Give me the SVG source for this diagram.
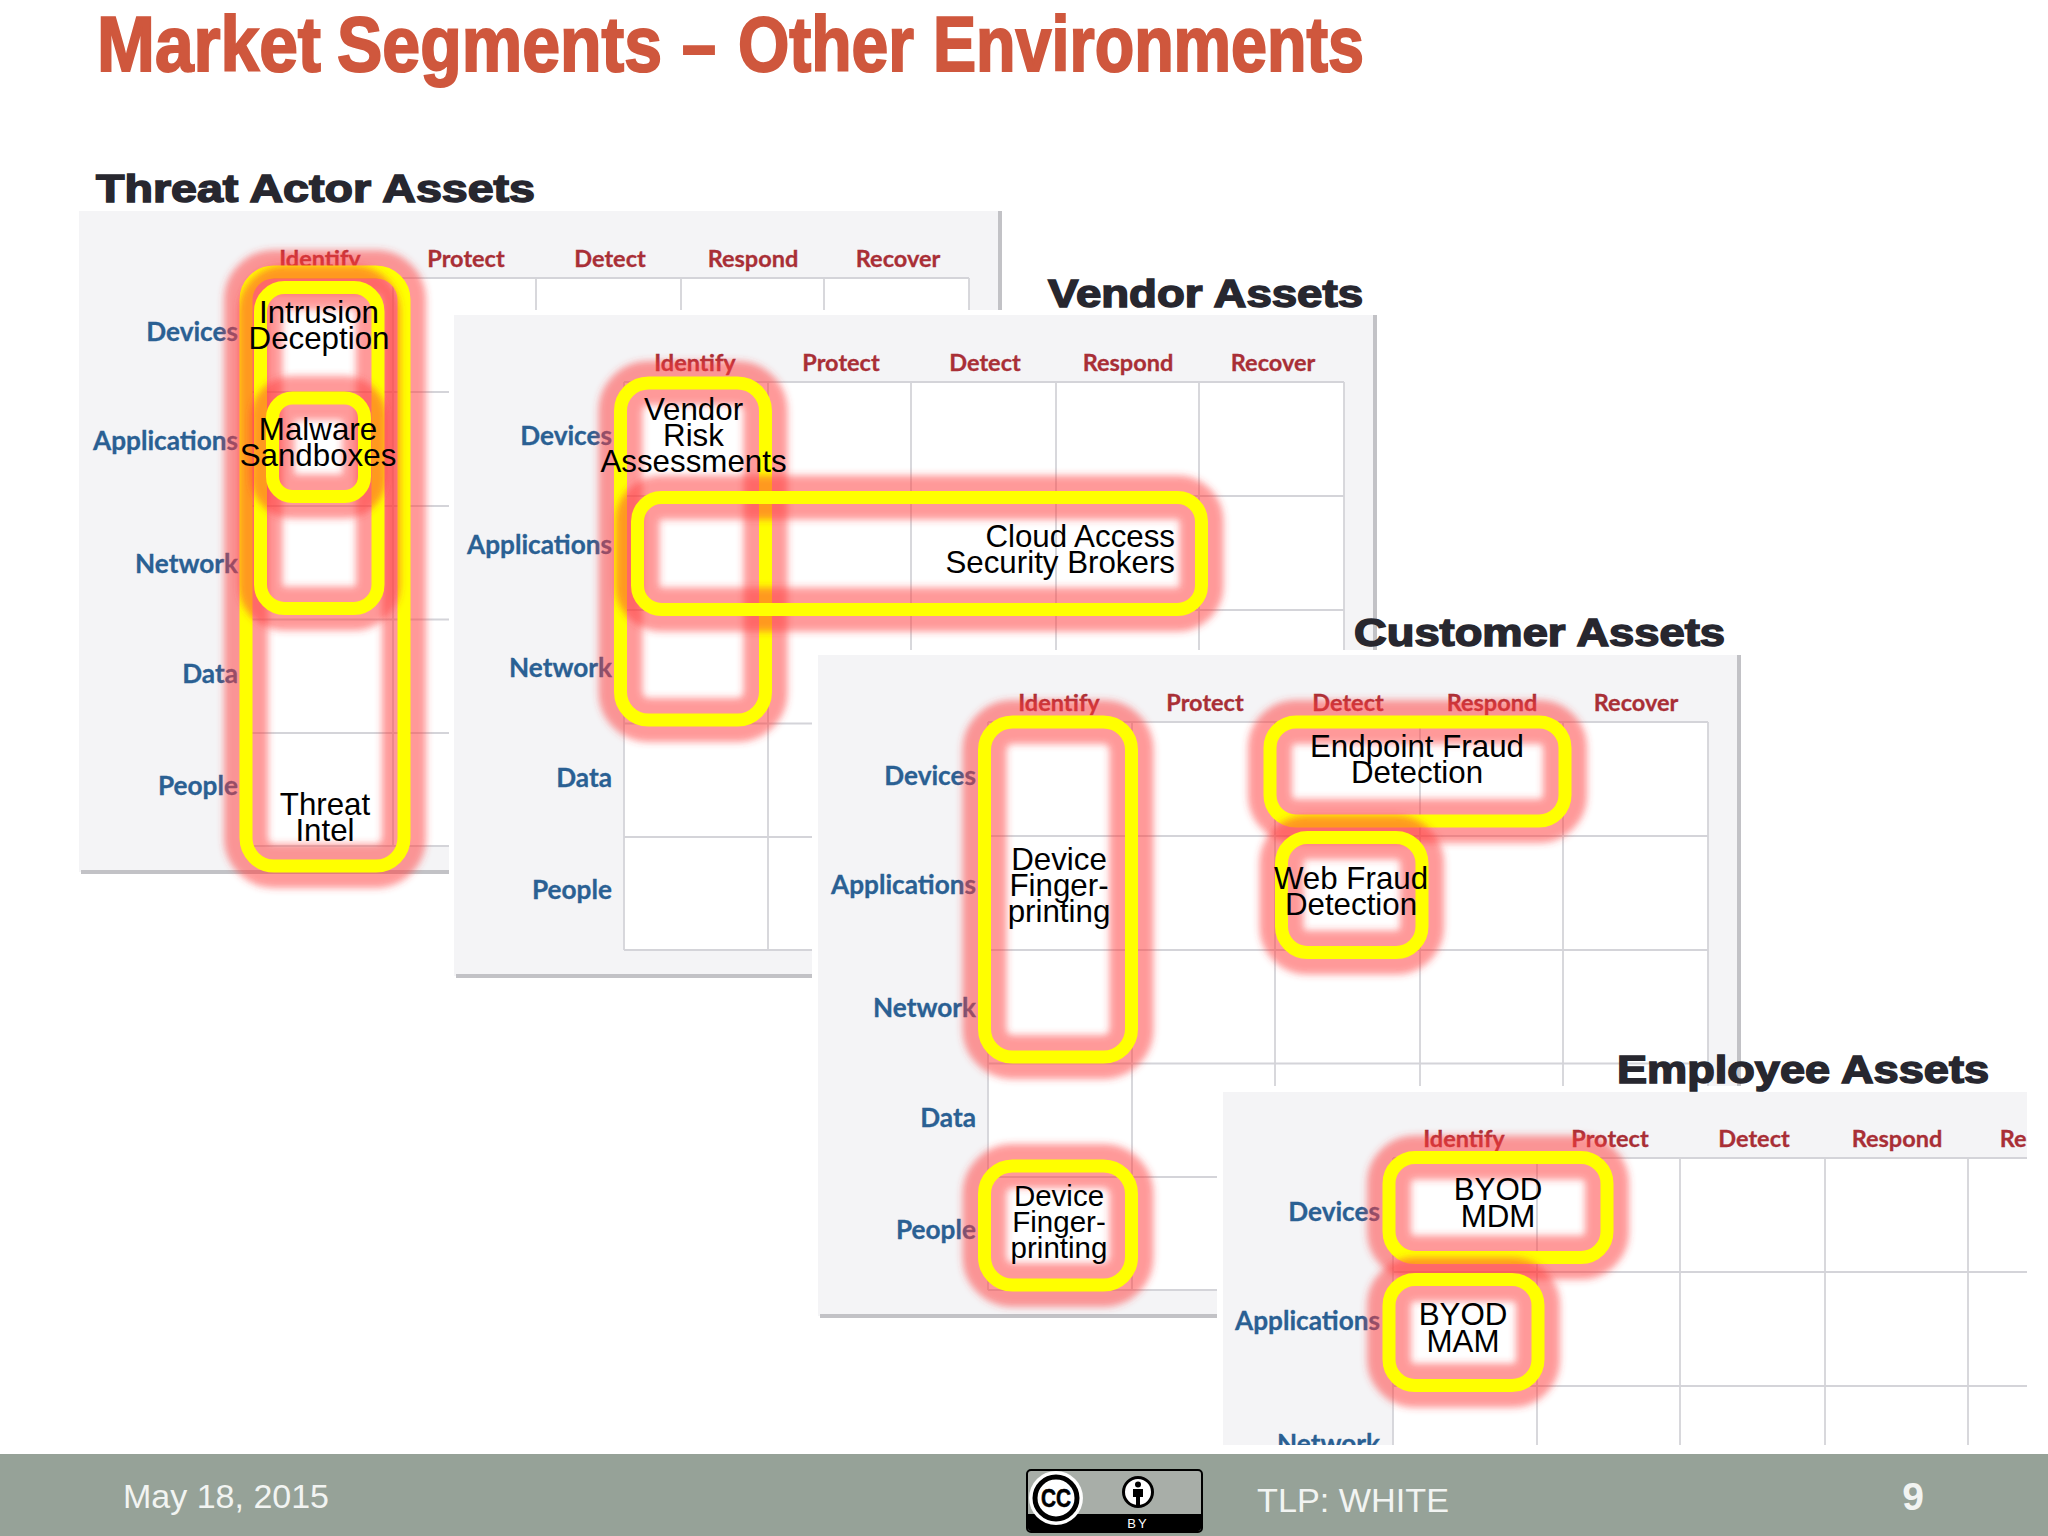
<svg xmlns="http://www.w3.org/2000/svg" width="2048" height="1536" viewBox="0 0 2048 1536">
<style>
.mask{fill:#fff}
.panel{fill:#f4f4f6}
.edge{fill:#c2c2c6}
.cells{fill:#fff}
.grid{stroke:#d4d4d9;stroke-width:1.800;fill:none}
.hd{font:700 23.500px Lato,"Liberation Sans",sans-serif;fill:#a92f36;stroke:#a92f36;stroke-width:.3;text-anchor:middle}
.rl{font:700 26.200px Lato,"Liberation Sans",sans-serif;fill:#2a6093;stroke:#2a6093;stroke-width:.3;text-anchor:end}
.glow{fill:none;stroke:#ff3c3c;stroke-opacity:.52;stroke-width:44;filter:url(#soft)}
.hl{fill:none;stroke:#ffff00;stroke-width:13}
.lb{font:31.300px "Liberation Sans",Arial,sans-serif;fill:#000;text-anchor:middle}
.h2{font:700 38px "Liberation Sans",Arial,sans-serif;fill:#27272f;stroke:#27272f;stroke-width:1.500}
.ft{font:34px "Liberation Sans",Arial,sans-serif;fill:#f2f4f2}
</style>
<defs>
<filter id="soft" x="-30%" y="-30%" width="160%" height="160%"><feGaussianBlur stdDeviation="3.800"/></filter>
<filter id="softer" x="-2%" y="-2%" width="104%" height="104%"><feGaussianBlur stdDeviation="0.600"/></filter>
<clipPath id="clip4"><rect x="1221" y="1092" width="806" height="353"/></clipPath>
<radialGradient id="ccg" gradientUnits="userSpaceOnUse" cx="1056" cy="1498" r="62"><stop offset="0.4" stop-color="#ffffff"/><stop offset="1" stop-color="#a8aea8"/></radialGradient>
<g id="frame" filter="url(#softer)">
<rect class="panel" x="79" y="211" width="921" height="661"/>
<rect class="edge" x="998" y="211" width="4" height="661"/>
<rect class="edge" x="81" y="870" width="921" height="4"/>
<rect class="cells" x="249" y="278" width="720" height="568"/>
<path class="grid" d="M249 278H969M249 392H969M249 506H969M249 619.500H969M249 733H969M249 846H969M249 278V846M393 278V846M536 278V846M681 278V846M824 278V846M969 278V846"/>
</g>
</defs>
<rect width="2048" height="1536" fill="#fff"/>
<text y="71" font-family="'Liberation Sans',Arial,sans-serif" font-weight="700" font-size="77" fill="#cf573d" stroke="#cf573d" stroke-width="2"><tspan x="97" textLength="224" lengthAdjust="spacingAndGlyphs">Market</tspan> <tspan x="337" textLength="325" lengthAdjust="spacingAndGlyphs">Segments</tspan> <tspan x="682" textLength="34" lengthAdjust="spacingAndGlyphs">–</tspan> <tspan x="738" textLength="176" lengthAdjust="spacingAndGlyphs">Other</tspan> <tspan x="933" textLength="431" lengthAdjust="spacingAndGlyphs">Environments</tspan></text>

<g id="panel-threat-actor">
<use href="#frame"/>
<g class="hdrs"><text class="hd" x="320" y="267">Identify</text><text class="hd" x="466" y="267">Protect</text><text class="hd" x="610" y="267">Detect</text><text class="hd" x="753" y="267">Respond</text><text class="hd" x="898" y="267">Recover</text></g>
<text class="rl" x="238" y="341">Devices</text><text class="rl" x="238" y="450">Applications</text><text class="rl" x="238" y="573">Network</text><text class="rl" x="238" y="683">Data</text><text class="rl" x="238" y="795">People</text>
<rect class="glow" x="246" y="272" width="158" height="594" rx="28"/><rect class="hl" x="246" y="272" width="158" height="594" rx="28"/>
<rect class="glow" x="260.500" y="287.500" width="117.500" height="321" rx="24"/><rect class="hl" x="260.500" y="287.500" width="117.500" height="321" rx="24"/>
<rect class="glow" x="272.500" y="398" width="92" height="98.500" rx="20"/><rect class="hl" x="272.500" y="398" width="92" height="98.500" rx="20"/>
<text class="lb" x="319" y="323">Intrusion</text><text class="lb" x="319" y="349">Deception</text>
<text class="lb" x="318" y="440">Malware</text><text class="lb" x="318" y="466">Sandboxes</text>
<text class="lb" x="325" y="815">Threat</text><text class="lb" x="325" y="841">Intel</text>
</g>

<rect class="mask" x="449" y="310" width="945" height="675"/>
<g id="panel-vendor">
<use href="#frame" x="375" y="104"/>
<text class="hd" x="695" y="371">Identify</text><text class="hd" x="841" y="371">Protect</text><text class="hd" x="985" y="371">Detect</text><text class="hd" x="1128" y="371">Respond</text><text class="hd" x="1273" y="371">Recover</text>
<text class="rl" x="612" y="445">Devices</text><text class="rl" x="612" y="554">Applications</text><text class="rl" x="612" y="677">Network</text><text class="rl" x="612" y="787">Data</text><text class="rl" x="612" y="899">People</text>
<rect class="glow" x="620.500" y="383" width="145" height="337" rx="28"/><rect class="hl" x="620.500" y="383" width="145" height="337" rx="28"/>
<rect class="glow" x="637.500" y="497.500" width="564" height="112" rx="24"/><rect class="hl" x="637.500" y="497.500" width="564" height="112" rx="24"/>
<text class="lb" x="693.500" y="420">Vendor</text><text class="lb" x="693.500" y="446">Risk</text><text class="lb" x="693.500" y="472">Assessments</text>
<text class="lb" x="1175" y="547" style="text-anchor:end">Cloud Access</text><text class="lb" x="1175" y="573" style="text-anchor:end">Security Brokers</text>
</g>

<rect class="mask" x="812" y="650" width="945" height="675"/>
<g id="panel-customer">
<use href="#frame" x="739" y="444"/>
<text class="hd" x="1059" y="711">Identify</text><text class="hd" x="1205" y="711">Protect</text><text class="hd" x="1348" y="711">Detect</text><text class="hd" x="1492" y="711">Respond</text><text class="hd" x="1636" y="711">Recover</text>
<text class="rl" x="976" y="785">Devices</text><text class="rl" x="976" y="894">Applications</text><text class="rl" x="976" y="1017">Network</text><text class="rl" x="976" y="1127">Data</text><text class="rl" x="976" y="1239">People</text>
<rect class="glow" x="984.500" y="722" width="147" height="335" rx="28"/><rect class="hl" x="984.500" y="722" width="147" height="335" rx="28"/>
<rect class="glow" x="984.500" y="1166" width="147" height="119" rx="28"/><rect class="hl" x="984.500" y="1166" width="147" height="119" rx="28"/>
<rect class="glow" x="1270" y="722" width="295" height="99" rx="26"/><rect class="hl" x="1270" y="722" width="295" height="99" rx="26"/>
<rect class="glow" x="1281.500" y="837.500" width="140.500" height="115" rx="26"/><rect class="hl" x="1281.500" y="837.500" width="140.500" height="115" rx="26"/>
<text class="lb" x="1059" y="870">Device</text><text class="lb" x="1059" y="896">Finger-</text><text class="lb" x="1059" y="922">printing</text>
<text class="lb" x="1059" y="1206" style="font-size:29.500px">Device</text><text class="lb" x="1059" y="1232" style="font-size:29.500px">Finger-</text><text class="lb" x="1059" y="1258" style="font-size:29.500px">printing</text>
<text class="lb" x="1417" y="757">Endpoint Fraud</text><text class="lb" x="1417" y="783">Detection</text>
<text class="lb" x="1351" y="889">Web Fraud</text><text class="lb" x="1351" y="915">Detection</text>
</g>

<rect class="mask" x="1217" y="1086" width="831" height="368"/>
<g id="panel-employee" clip-path="url(#clip4)">
<use href="#frame" x="1144" y="880"/>
<text class="hd" x="1464" y="1147">Identify</text><text class="hd" x="1610" y="1147">Protect</text><text class="hd" x="1754" y="1147">Detect</text><text class="hd" x="1897" y="1147">Respond</text><text class="hd" x="2042" y="1147">Recover</text>
<text class="rl" x="1380" y="1221">Devices</text><text class="rl" x="1380" y="1330">Applications</text><text class="rl" x="1380" y="1453">Network</text>
<rect class="glow" x="1389" y="1157.500" width="218" height="100" rx="26"/><rect class="hl" x="1389" y="1157.500" width="218" height="100" rx="26"/>
<rect class="glow" x="1389" y="1279.500" width="149" height="106" rx="26"/><rect class="hl" x="1389" y="1279.500" width="149" height="106" rx="26"/>
<text class="lb" x="1498" y="1200">BYOD</text><text class="lb" x="1498" y="1227">MDM</text>
<text class="lb" x="1463" y="1325">BYOD</text><text class="lb" x="1463" y="1352">MAM</text>
</g>

<text class="h2" x="96" y="202" textLength="439" lengthAdjust="spacingAndGlyphs">Threat Actor Assets</text>
<text class="h2" x="1048" y="307" textLength="315" lengthAdjust="spacingAndGlyphs">Vendor Assets</text>
<text class="h2" x="1354" y="646" textLength="371" lengthAdjust="spacingAndGlyphs">Customer Assets</text>
<text class="h2" x="1617" y="1083" textLength="372" lengthAdjust="spacingAndGlyphs">Employee Assets</text>

<g id="footer">
<rect x="0" y="1454" width="2048" height="82" fill="#96a298"/>
<text class="ft" x="123" y="1508">May 18, 2015</text>
<text class="ft" x="1257" y="1512" textLength="192" lengthAdjust="spacingAndGlyphs">TLP: WHITE</text>
<text x="1913" y="1510" text-anchor="middle" font-family="'Liberation Sans',Arial,sans-serif" font-weight="700" font-size="39" fill="#f2f4f2">9</text>
<g id="cc-badge">
<rect x="1027" y="1470" width="175" height="62" rx="4" fill="#a8aea8" stroke="#000" stroke-width="2"/>
<path d="M1028 1514H1201V1528a3 3 0 0 1-3 3H1031a3 3 0 0 1-3-3Z" fill="#000"/>
<circle cx="1056" cy="1498" r="27" fill="url(#ccg)"/>
<circle cx="1056" cy="1498" r="21" fill="#fff" stroke="#000" stroke-width="5"/>
<text x="1056" y="1507" text-anchor="middle" font-family="'Liberation Sans',Arial,sans-serif" font-weight="700" font-size="26" fill="#000" stroke="#000" stroke-width=".6" textLength="30" lengthAdjust="spacingAndGlyphs">CC</text>
<circle cx="1138" cy="1492" r="14.500" fill="#fff" stroke="#000" stroke-width="3"/>
<circle cx="1138" cy="1484.500" r="3" fill="#000"/>
<path d="M1133 1489h10v8h-3v8h-4v-8h-3Z" fill="#000"/>
<text x="1138" y="1528" text-anchor="middle" font-family="'Liberation Sans',Arial,sans-serif" font-size="13" letter-spacing="2" fill="#fff">BY</text>
</g>
</g>
</svg>
